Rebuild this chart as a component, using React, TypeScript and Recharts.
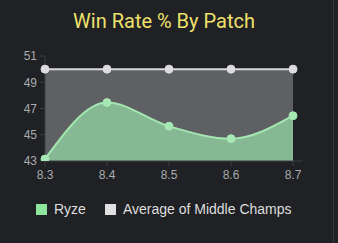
import { ComposedChart, Area, XAxis, YAxis } from 'recharts';

const patches = ['8.3', '8.4', '8.5', '8.6', '8.7'];
const ryze = [43.15, 47.45, 45.65, 44.7, 46.45];
const middleAvg = [50, 50, 50, 50, 50];
const yTicks = [43, 45, 47, 49, 51];

const data = patches.map((p, i) => ({ patch: p, ryze: ryze[i], avg: middleAvg[i] }));

const tickStyle = { fill: '#a9abad', fontSize: 12, fontFamily: 'Liberation Sans, Arial, sans-serif' };

function LegendItem({ color, label }: { color: string; label: string }) {
  return (
    <div style={{ display: 'flex', alignItems: 'center', marginRight: 19 }}>
      <span style={{ width: 11, height: 11, background: color, marginRight: 7 }} />
      <span>{label}</span>
    </div>
  );
}

export default function App() {
  return (
    <div
      style={{
        position: 'fixed',
        left: 0,
        top: 0,
        width: 338,
        height: 243,
        background: '#1f2124',
        overflow: 'hidden',
        fontFamily: 'Liberation Sans, Arial, sans-serif',
      }}
    >
      <div
        style={{
          position: 'absolute',
          top: 9,
          left: 0,
          width: 328,
          textAlign: 'center',
          color: '#efe06c',
          fontSize: 20,
          fontWeight: 400,
          fontFamily: 'Roboto, sans-serif',
        }}
      >
        Win Rate % By Patch
      </div>
      <div style={{ position: 'absolute', left: 333, top: 0, width: 1, height: 243, background: '#35373b' }} />
      <ComposedChart width={338} height={243} data={data} margin={{ top: 56, right: 35, left: 15, bottom: 52 }}>
        <XAxis
          dataKey="patch"
          padding={{ left: 0, right: 10 }}
          stroke="#3d3f43"
          tick={tickStyle}
          tickSize={5}
          tickMargin={4}
        />
        <YAxis
          domain={[43, 51]}
          ticks={yTicks}
          width={30}
          stroke="#3d3f43"
          tick={tickStyle}
          tickSize={5}
          tickMargin={3}
          allowDataOverflow
        />
        <Area
          type="linear"
          dataKey="avg"
          baseValue={43}
          stroke="#d8d8da"
          strokeWidth={2}
          fill="#5f6063"
          fillOpacity={1}
          dot={{ r: 4, fill: '#dcdcde', stroke: '#dcdcde', strokeWidth: 1 }}
          isAnimationActive={false}
        />
        <Area
          type="monotone"
          dataKey="ryze"
          baseValue={43}
          stroke="#a3e6b0"
          strokeWidth={2}
          fill="#86b893"
          fillOpacity={1}
          dot={{ r: 4, fill: '#a6e8b3', stroke: '#a6e8b3', strokeWidth: 1 }}
          isAnimationActive={false}
        />
      </ComposedChart>
      <div
        style={{
          position: 'absolute',
          top: 201,
          left: 36,
          display: 'flex',
          color: '#dedede',
          fontSize: 14,
        }}
      >
        <LegendItem color="#8ee69e" label="Ryze" />
        <LegendItem color="#e0e0e0" label="Average of Middle Champs" />
      </div>
    </div>
  );
}
